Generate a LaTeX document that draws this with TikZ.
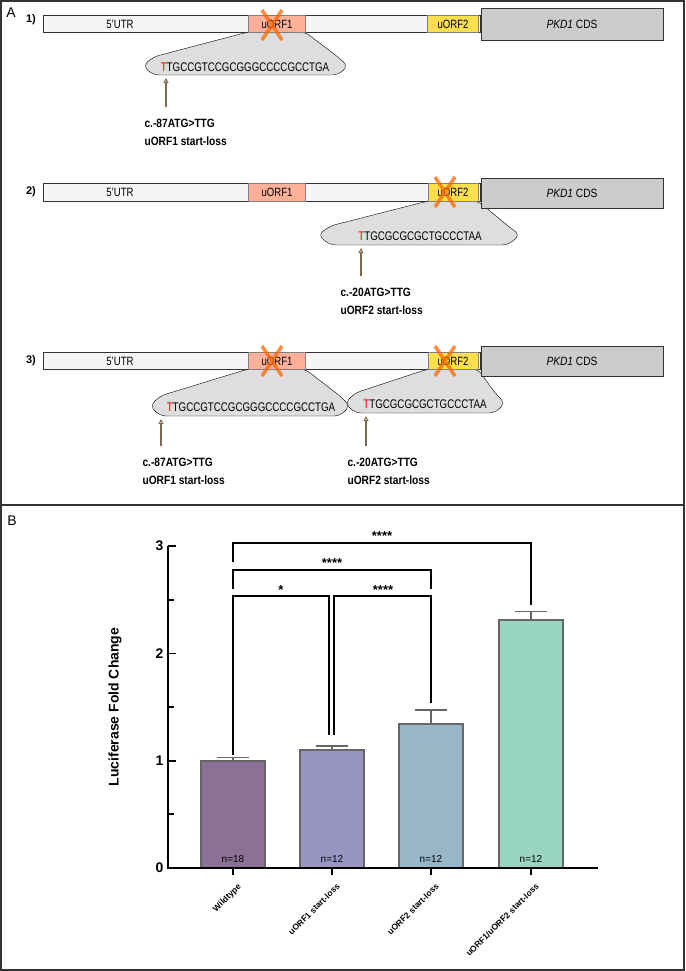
\documentclass[tikz,border=0pt]{standalone}
\usepackage{fontspec}
\usetikzlibrary{arrows.meta}
\setmainfont{Liberation Sans}
\begin{document}
\begin{tikzpicture}[x=1pt,y=-1pt,
  utr/.style={draw=black!80,fill=black!4,line width=0.8pt},
  orf1/.style={draw=black!50,fill=orange!45!red!40!white,line width=0.6pt},
  orf2/.style={draw=black!50,fill=yellow!70!orange!70!white,line width=0.6pt},
  cds/.style={draw=black!80,fill=black!20,line width=0.9pt,font=\fontsize{12}{12}\selectfont\addfontfeatures{FakeStretch=0.85}},
  fan/.style={fill=black!13,rounded corners=6pt},
  cross/.style={draw=orange!80!red,line width=3.5pt,opacity=0.75},
  seq/.style={font=\fontsize{12.5}{12.5}\selectfont\addfontfeatures{FakeStretch=0.78}},
  mut/.style={font=\bfseries\fontsize{12}{18}\selectfont\addfontfeatures{FakeStretch=0.85},align=left,anchor=north west},
  up/.style={draw=black!50!brown!80,line width=2pt,-{Triangle[open,length=5pt,width=5pt,line width=1pt]}},
  lbl/.style={font=\fontsize{12}{12}\selectfont\addfontfeatures{FakeStretch=0.8}},
  bar/.style={draw=black!60,line width=2.2pt},
  err/.style={draw=black!60,line width=1.8pt},
  brk/.style={draw=black,line width=1.6pt},
  star/.style={font=\bfseries\fontsize{13}{13}\selectfont}]
\useasboundingbox (0,0) rectangle (685,971);
\draw[line width=1.2pt,black!80] (1,1) rectangle (684,505);
\draw[line width=1.2pt,black!80] (1,505) rectangle (684,970);
\node[font=\fontsize{14}{14}\selectfont] (A) at (11,13) {A};
\node[font=\fontsize{14}{14}\selectfont] (B) at (12,521) {B};

% ---- row 1
\node[font=\bfseries\fontsize{11}{11}\selectfont] (n1) at (31,20) {1)};
\draw[fan] (248,32) -- (305,32) -- (338,57) -- (348,66) -- (338,75) -- (153,75) -- (143,66) -- (153,57) -- cycle;
\draw[utr] (43,15) rectangle (480,32);
\draw[orf1] (248,15) rectangle (305,32);
\draw[orf2] (427,15) rectangle (478,32);
\node[cds,minimum width=182pt,minimum height=32pt] (cds1) at (572,24) {\textit{PKD1} CDS};
\node[lbl] (u1) at (120,24) {5'UTR};
\node[lbl] (o1) at (277,24) {uORF1};
\node[lbl] (p1) at (453,24) {uORF2};
\draw[cross] (262,10) -- (282,40) (282,10) -- (262,40);
\node[seq] (s1) at (245,67) {\textcolor{red}{T}TGCCGTCCGCGGGCCCCGCCTGA};
\coordinate (a1b) at (166,107); \coordinate (a1t) at (166,78);
\draw[up] (a1b) -- (a1t);
\node[mut] (m1) at (141,116) {c.-87ATG>TTG\\uORF1 start-loss};

% ---- row 2
\node[font=\bfseries\fontsize{11}{11}\selectfont] (n2) at (31,192) {2)};
\draw[fan] (428,201) -- (478,201) -- (508,226) -- (520,235) -- (508,245) -- (330,245) -- (318,235) -- (330,226) -- cycle;
\draw[utr] (43,183) rectangle (480,201);
\draw[orf1] (248,183) rectangle (305,201);
\draw[orf2] (428,183) rectangle (478,201);
\node[cds,minimum width=182pt,minimum height=30pt] (cds2) at (572,193) {\textit{PKD1} CDS};
\node[lbl] (u2) at (120,192) {5'UTR};
\node[lbl] (o2) at (277,192) {uORF1};
\node[lbl] (p2) at (453,192) {uORF2};
\draw[cross] (435,177) -- (455,207) (455,177) -- (435,207);
\node[seq] (s2) at (420,236) {\textcolor{red}{T}TGCGCGCGCTGCCCTAA};
\coordinate (a2b) at (361,276); \coordinate (a2t) at (361,248);
\draw[up] (a2b) -- (a2t);
\node[mut] (m2) at (337,285) {c.-20ATG>TTG\\uORF2 start-loss};

% ---- row 3
\node[font=\bfseries\fontsize{11}{11}\selectfont] (n3) at (31,361) {3)};
\draw[fan] (248,369) -- (305,369) -- (340,396) -- (350,406) -- (340,416) -- (160,416) -- (150,406) -- (160,396) -- cycle;
\draw[fan] (428,369) -- (478,369) -- (495,393) -- (505,403) -- (495,413) -- (355,413) -- (345,403) -- (355,393) -- cycle;
\draw[utr] (43,352) rectangle (480,369);
\draw[orf1] (248,352) rectangle (305,369);
\draw[orf2] (428,352) rectangle (478,369);
\node[cds,minimum width=182pt,minimum height=30pt] (cds3) at (572,361) {\textit{PKD1} CDS};
\node[lbl] (u3) at (120,361) {5'UTR};
\node[lbl] (o3) at (277,361) {uORF1};
\node[lbl] (p3) at (453,361) {uORF2};
\draw[cross] (262,346) -- (282,376) (282,346) -- (262,376);
\draw[cross] (435,346) -- (455,376) (455,346) -- (435,376);
\node[seq] (s3) at (251,407) {\textcolor{red}{T}TGCCGTCCGCGGGCCCCGCCTGA};
\node[seq] (s4) at (425,404) {\textcolor{red}{T}TGCGCGCGCTGCCCTAA};
\coordinate (a3b) at (161,446); \coordinate (a3t) at (161,419);
\draw[up] (a3b) -- (a3t);
\coordinate (a4b) at (366,446); \coordinate (a4t) at (366,416);
\draw[up] (a4b) -- (a4t);
\node[mut] (m3) at (139,455) {c.-87ATG>TTG\\uORF1 start-loss};
\node[mut] (m4) at (344,455) {c.-20ATG>TTG\\uORF2 start-loss};

% ---- chart (y0=868, 107.3 per unit)
\def\yy#1{868-107.3*#1}
\foreach \c/\h/\e/\col/\nn/\name [count=\i] in {233/1.00/0.03/8C7196/18/{Wildtype}, 332/1.10/0.04/9895C3/12/{uORF1 start-loss}, 431/1.34/0.13/97B6C8/12/{uORF2 start-loss}, 531/2.31/0.08/9AD5C2/12/{uORF1{/}uORF2 start-loss}}{
  \definecolor{bc}{HTML}{\col}
  \draw[err] (\c,{\yy{\h}}) -- (\c,{\yy{(\h+\e)}}) (\c-16,{\yy{(\h+\e)}}) -- (\c+16,{\yy{(\h+\e)}});
  \draw[bar,fill=bc] (\c-32,868) rectangle (\c+32,{\yy{\h}});
  \node[font=\fontsize{10}{10}\selectfont] (nn\i) at (\c,859) {n=\nn};
  \draw[line width=1.8pt] (\c,868) -- (\c,875);
  \node[font=\bfseries\fontsize{8.5}{8.5}\selectfont,rotate=45,anchor=north east,inner sep=1pt] (cat\i) at (\c+4,881) {\name};
}
\draw[line width=2pt] (168,546) -- (168,868) -- (598,868);
\foreach \v in {0.5,1.5,2.5} \draw[line width=1.8pt] (168,{\yy{\v}}) -- (174,{\yy{\v}});
\foreach \v in {1,2,3} \draw[line width=1.8pt] (168,{\yy{\v}}) -- (176,{\yy{\v}});
\foreach \v in {0,1,2,3} \node[font=\bfseries\fontsize{14}{14}\selectfont,anchor=east] (t\v) at (167,{\yy{\v}}) {\v};
\node[font=\bfseries\fontsize{14}{14}\selectfont,rotate=90] (yl) at (115,707) {Luciferase Fold Change};
% brackets
\draw[brk] (233,562) -- (233,543) -- (531,543) -- (531,605);
\node[star] (st1) at (382,536) {****};
\draw[brk] (233,589) -- (233,570) -- (431,570) -- (431,589);
\node[star] (st2) at (332,563) {****};
\draw[brk] (233,755) -- (233,596) -- (329,596) -- (329,735);
\node[star] (st3) at (281,590) {*};
\draw[brk] (334,735) -- (334,596) -- (431,596) -- (431,703);
\node[star] (st4) at (383,590) {****};
\end{tikzpicture}
\end{document}
